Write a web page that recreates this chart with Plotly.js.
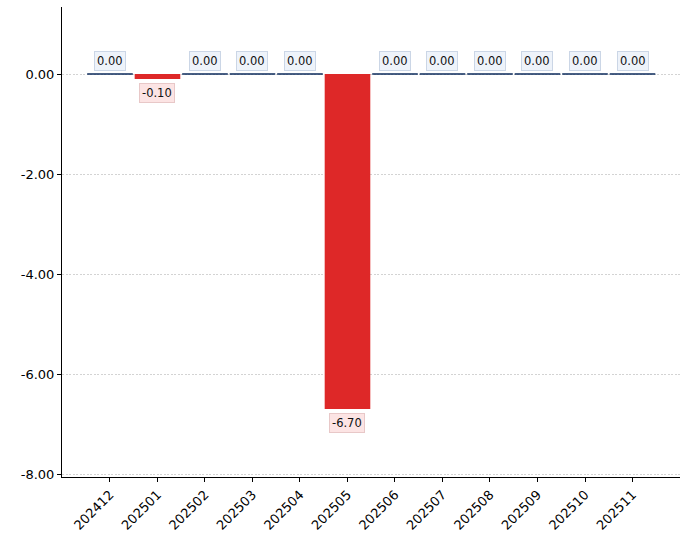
<!DOCTYPE html>
<html><head><meta charset="utf-8">
<script src="https://cdn.plot.ly/plotly-3.0.1.min.js"></script>
<style>html,body{margin:0;padding:0;background:#fff}#chart{width:688px;height:533px}</style>
</head><body><div id="chart"></div>
<script>
const categories = ["202412","202501","202502","202503","202504","202505","202506","202507","202508","202509","202510","202511"];
const values = [0.00,-0.10,0.00,0.00,0.00,-6.70,0.00,0.00,0.00,0.00,0.00,0.00];
const yTickVals = [0,-2,-4,-6,-8];

const RED = "#DE2828", NAVY = "#0B2A5B";
const BAR_W = 0.96;
const idx = categories.map((_, i) => i);

const negX = [], negY = [];
const zx = [], zy = [];
values.forEach((v, i) => {
  if (v !== 0) { negX.push(i); negY.push(v); }
  else { zx.push(i - BAR_W/2, i + BAR_W/2, null); zy.push(v, v, null); }
});

const traces = [
  {type: "bar", x: negX, y: negY, width: BAR_W, marker: {color: RED}, hoverinfo: "skip"},
  {type: "scatter", mode: "lines", x: zx, y: zy, line: {color: NAVY, width: 1.3}, hoverinfo: "skip"}
];

const annotations = values.map((v, i) => ({
  x: i, y: v, xref: "x", yref: "y",
  text: v.toFixed(2), showarrow: false,
  yanchor: v < 0 ? "top" : "bottom",
  yshift: v < 0 ? -4 : 3,
  font: {family: "DejaVu Sans", size: 11.5, color: "#111"},
  bgcolor: v < 0 ? "#FCE4E4" : "#EEF3FA",
  bordercolor: v < 0 ? "#E8C8C8" : "#CBD6E6",
  borderwidth: 1, borderpad: 2
}));

const layout = {
  width: 688, height: 533,
  margin: {l: 62, r: 8, t: 7, b: 56},
  paper_bgcolor: "#fff", plot_bgcolor: "#fff",
  showlegend: false,
  font: {family: "DejaVu Sans", size: 13, color: "#000"},
  xaxis: {
    range: [-1.01, 12.0], tickvals: idx, ticktext: categories,
    tickangle: -45, ticks: "outside", ticklen: 4, tickcolor: "#000",
    showgrid: false, zeroline: false, showline: true, linecolor: "#000", linewidth: 1,
    tickfont: {family: "DejaVu Sans", size: 13, color: "#000"}
  },
  yaxis: {
    range: [-8.06, 1.34], tickvals: yTickVals, ticktext: yTickVals.map(v => v.toFixed(2)),
    ticks: "outside", ticklen: 4, tickcolor: "#000",
    showgrid: true, gridcolor: "#c8c8c8", griddash: "2px,1.5px", gridwidth: 0.8,
    zeroline: false, showline: true, linecolor: "#000", linewidth: 1,
    tickfont: {family: "DejaVu Sans", size: 13, color: "#000"}
  },
  annotations: annotations
};

Plotly.newPlot("chart", traces, layout, {staticPlot: true, displayModeBar: false});
</script></body></html>
